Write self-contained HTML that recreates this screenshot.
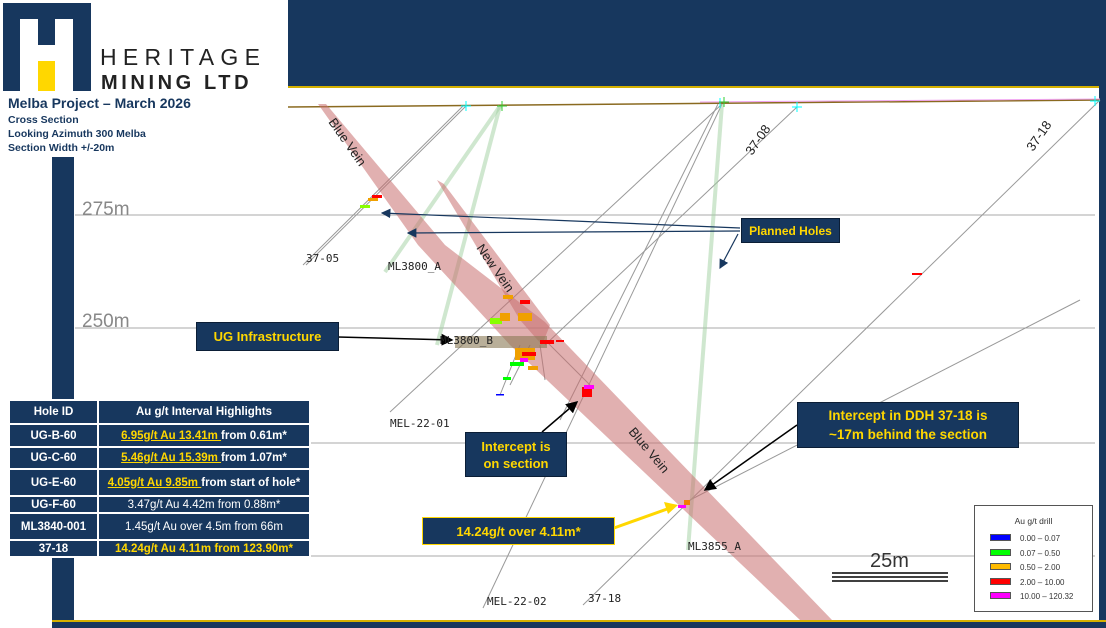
<!DOCTYPE html>
<html><head><meta charset="utf-8"><style>
body{margin:0;width:1106px;height:626px;overflow:hidden;background:#fff;font-family:"Liberation Sans",sans-serif;position:relative}
.a{position:absolute}
.box{position:absolute;background:#17375e;color:#ffd700;font-weight:bold;display:flex;align-items:center;justify-content:center;text-align:center;border:1px solid #0b1e36}
table{border-collapse:collapse;position:absolute;left:8px;top:399px;width:303px;font-weight:bold;font-size:11.5px;color:#fff}
td{background:#17375e;border:2px solid #fff;text-align:center;padding:0}
.y{color:#ffd700;text-decoration:underline}
.yy{color:#ffd700}
</style></head><body>
<div class="a" style="left:288px;top:0;width:818px;height:86px;background:#17375e;border-bottom:2px solid #d4b000"></div>
<div class="a" style="left:1099px;top:86px;width:7px;height:540px;background:#17375e"></div>
<div class="a" style="left:52px;top:157px;width:22px;height:469px;background:#17375e"></div>
<div class="a" style="left:52px;top:620px;width:1054px;height:6px;background:#17375e;border-top:2px solid #d4b000"></div>
<!-- logo -->
<div class="a" style="left:3px;top:3px;width:88px;height:88px;background:#17375e"></div>
<div class="a" style="left:20px;top:19px;width:18px;height:72px;background:#fff"></div>
<div class="a" style="left:55px;top:19px;width:18px;height:72px;background:#fff"></div>
<div class="a" style="left:38px;top:45px;width:17px;height:46px;background:#fff"></div>
<div class="a" style="left:38px;top:61px;width:17px;height:30px;background:#ffd700"></div>
<div class="a" style="left:100px;top:44px;font-size:23px;letter-spacing:6.3px;color:#222">HERITAGE</div>
<div class="a" style="left:101px;top:72px;font-size:20px;font-weight:bold;letter-spacing:3.6px;color:#222">MINING LTD</div>
<div class="a" style="left:8px;top:95px;font-size:14px;font-weight:bold;color:#17375e">Melba Project – March 2026</div>
<div class="a" style="left:8px;top:113px;font-size:10.5px;font-weight:bold;color:#17375e;line-height:14px">Cross Section<br>Looking Azimuth 300 Melba<br>Section Width +/-20m</div>

<svg class="a" style="left:0;top:0" width="1106" height="626">
<g stroke="#aaa" stroke-width="1">
<line x1="75" y1="215" x2="1095" y2="215"/><line x1="75" y1="328" x2="1095" y2="328"/>
<line x1="311" y1="443" x2="1095" y2="443"/><line x1="75" y1="556" x2="1095" y2="556"/>
</g>
<line x1="288" y1="107" x2="1100" y2="100" stroke="#8a6a20" stroke-width="1.5"/>
<line x1="700" y1="102" x2="1100" y2="99" stroke="#f0a0f0" stroke-width="1"/>
<g stroke="#999" stroke-width="1" fill="none">
<line x1="466" y1="106" x2="306" y2="265"/><line x1="463" y1="106" x2="303" y2="265"/>
<line x1="1100" y1="100" x2="583" y2="605"/>
<line x1="797" y1="107" x2="545" y2="345"/>
<line x1="722" y1="104" x2="390" y2="412"/>
<line x1="722" y1="104" x2="483" y2="608"/>
<line x1="718" y1="104" x2="560" y2="420"/>
<line x1="545" y1="340" x2="590" y2="385"/>
<line x1="690" y1="500" x2="1080" y2="300"/>
<line x1="520" y1="345" x2="500" y2="395"/><line x1="530" y1="345" x2="510" y2="385"/><line x1="540" y1="345" x2="545" y2="380"/>
</g>
<g stroke="#9fd09f" stroke-opacity=".5" stroke-width="4" fill="none">
<line x1="500" y1="106" x2="385" y2="272"/><line x1="500" y1="106" x2="437" y2="345"/>
<line x1="722" y1="104" x2="688" y2="550"/>
</g>
<polygon points="318,104 326,104 445,245 545,322 832,620 800,620 510,345 418,245" fill="#c87070" fill-opacity=".55"/>
<polygon points="437,180 444,184 550,325 542,345 520,320" fill="#c87070" fill-opacity=".55"/>
<rect x="455" y="336" width="92" height="12" fill="#8a7a55" fill-opacity=".6"/>
<g>
<rect x="503" y="295" width="10" height="4" fill="#f0a000"/><rect x="520" y="300" width="10" height="4" fill="#f00"/>
<rect x="490" y="318" width="12" height="6" fill="#8f0"/>
<rect x="500" y="313" width="10" height="8" fill="#f0a000"/><rect x="518" y="313" width="14" height="8" fill="#f0a000"/>
<rect x="515" y="348" width="20" height="12" fill="#f0a000"/><rect x="522" y="352" width="14" height="4" fill="#f00"/>
<rect x="510" y="362" width="14" height="4" fill="#0f0"/><rect x="528" y="366" width="10" height="4" fill="#f0a000"/>
<rect x="520" y="358" width="8" height="4" fill="#f0f"/><rect x="503" y="377" width="8" height="3" fill="#0f0"/>
<rect x="540" y="340" width="14" height="4" fill="#f00"/><rect x="556" y="340" width="8" height="2" fill="#f00"/>
<rect x="582" y="387" width="10" height="10" fill="#f00"/><rect x="584" y="385" width="10" height="4" fill="#f0f"/>
<rect x="496" y="394" width="8" height="1.5" fill="#00f"/>
<rect x="372" y="195" width="10" height="3" fill="#f00"/><rect x="368" y="198" width="10" height="3" fill="#f0a000"/>
<rect x="360" y="205" width="10" height="3" fill="#8f0"/>
<rect x="912" y="273" width="10" height="2" fill="#f00"/>
<rect x="678" y="505" width="8" height="3" fill="#f0f"/><rect x="684" y="500" width="6" height="5" fill="#f08000"/>
</g>
<g stroke="#0ff" stroke-width="1"><path d="M466 101v10M461 106h10M797 102v10M792 107h10M720 98v10M1095 96v10M1090 101h10"/></g>
<g stroke="#3c3" stroke-width="1"><path d="M502 101v10M497 106h10M724 97v10M719 102h10"/></g>
<defs><marker id="m" markerWidth="8" markerHeight="8" refX="7" refY="4" orient="auto"><path d="M0,0L8,4L0,8z" fill="#17375e"/></marker>
<marker id="k" markerWidth="8" markerHeight="8" refX="7" refY="4" orient="auto"><path d="M0,0L8,4L0,8z" fill="#000"/></marker></defs>
<g stroke="#17375e" stroke-width="1.2" marker-end="url(#m)">
<line x1="740" y1="228" x2="382" y2="213"/>
<line x1="740" y1="231" x2="408" y2="233"/>
<line x1="738" y1="234" x2="720" y2="268"/>
</g>
<g stroke="#000" stroke-width="1.5" marker-end="url(#k)">
<line x1="338" y1="337" x2="452" y2="340"/>
<line x1="542" y1="432" x2="577" y2="402"/>
<line x1="797" y1="425" x2="705" y2="490"/>
</g>
<line x1="614" y1="528" x2="670" y2="508" stroke="#ffd700" stroke-width="3"/>
<path d="M678,505 L664,502 L668,514z" fill="#ffd700"/>
<g font-family="Liberation Sans" font-size="13" fill="#222">
<text transform="translate(328,122) rotate(55)">Blue Vein</text>
<text transform="translate(476,248) rotate(55)">New Vein</text>
<text transform="translate(628,432) rotate(50)">Blue Vein</text>
<text transform="translate(752,156) rotate(-55)">37-08</text>
<text transform="translate(1033,152) rotate(-55)">37-18</text>
</g>
<g font-family="DejaVu Sans Mono,Liberation Mono" font-size="11" fill="#222">
<text x="306" y="262">37-05</text><text x="388" y="270">ML3800_A</text>
<text x="440" y="344">ML3800_B</text><text x="390" y="427">MEL-22-01</text>
<text x="487" y="605">MEL-22-02</text><text x="588" y="602">37-18</text>
<text x="688" y="550">ML3855_A</text>
</g>
<g font-family="Liberation Sans" font-size="19" fill="#888">
<text x="82" y="215">275m</text><text x="82" y="327">250m</text>
</g>
<text x="870" y="567" font-family="Liberation Sans" font-size="20" fill="#333">25m</text>
<g stroke="#000" stroke-width="1.5"><line x1="832" y1="573" x2="948" y2="573"/><line x1="832" y1="577" x2="948" y2="577"/><line x1="832" y1="581" x2="948" y2="581"/></g>
</svg>

<div class="box" style="left:196px;top:322px;width:141px;height:27px;font-size:13px">UG Infrastructure</div>
<div class="box" style="left:741px;top:218px;width:97px;height:23px;font-size:12px">Planned Holes</div>
<div class="box" style="left:465px;top:432px;width:100px;height:43px;font-size:13px;line-height:17px">Intercept is<br>on section</div>
<div class="box" style="left:797px;top:402px;width:220px;height:44px;font-size:13.5px;line-height:19px">Intercept in DDH 37-18 is<br>~17m behind the section</div>
<div class="box" style="left:422px;top:517px;width:191px;height:26px;font-size:13px;border-color:#ffd700">14.24g/t over 4.11m*</div>

<table>
<tr style="height:24px"><td style="width:87px">Hole ID</td><td>Au g/t Interval Highlights</td></tr>
<tr style="height:23px"><td>UG-B-60</td><td><span class="y">6.95g/t Au 13.41m </span>from 0.61m*</td></tr>
<tr style="height:22px"><td>UG-C-60</td><td><span class="y">5.46g/t Au 15.39m </span>from 1.07m*</td></tr>
<tr style="height:27px"><td>UG-E-60</td><td><span class="y">4.05g/t Au 9.85m </span>from start of hole*</td></tr>
<tr style="height:17px"><td>UG-F-60</td><td style="font-weight:normal">3.47g/t Au 4.42m from 0.88m*</td></tr>
<tr style="height:27px"><td>ML3840-001</td><td style="font-weight:normal">1.45g/t Au over 4.5m from 66m</td></tr>
<tr style="height:17px"><td>37-18</td><td class="yy">14.24g/t Au 4.11m from 123.90m*</td></tr>
</table>

<div class="a" style="left:974px;top:505px;width:117px;height:105px;border:1px solid #555;background:#fff;font-size:8px;color:#333">
<div style="text-align:center;margin-top:10px;font-size:8.5px">Au g/t drill</div>
<div style="position:absolute;left:15px;top:26px;line-height:14.5px">
<div><span style="display:inline-block;width:19px;height:5px;background:#00f;border:1px solid #555;margin-right:9px"></span>0.00 – 0.07</div>
<div><span style="display:inline-block;width:19px;height:5px;background:#0f0;border:1px solid #555;margin-right:9px"></span>0.07 – 0.50</div>
<div><span style="display:inline-block;width:19px;height:5px;background:#fb0;border:1px solid #555;margin-right:9px"></span>0.50 – 2.00</div>
<div><span style="display:inline-block;width:19px;height:5px;background:#f00;border:1px solid #555;margin-right:9px"></span>2.00 – 10.00</div>
<div><span style="display:inline-block;width:19px;height:5px;background:#f0f;border:1px solid #555;margin-right:9px"></span>10.00 – 120.32</div>
</div></div>
</body></html>
